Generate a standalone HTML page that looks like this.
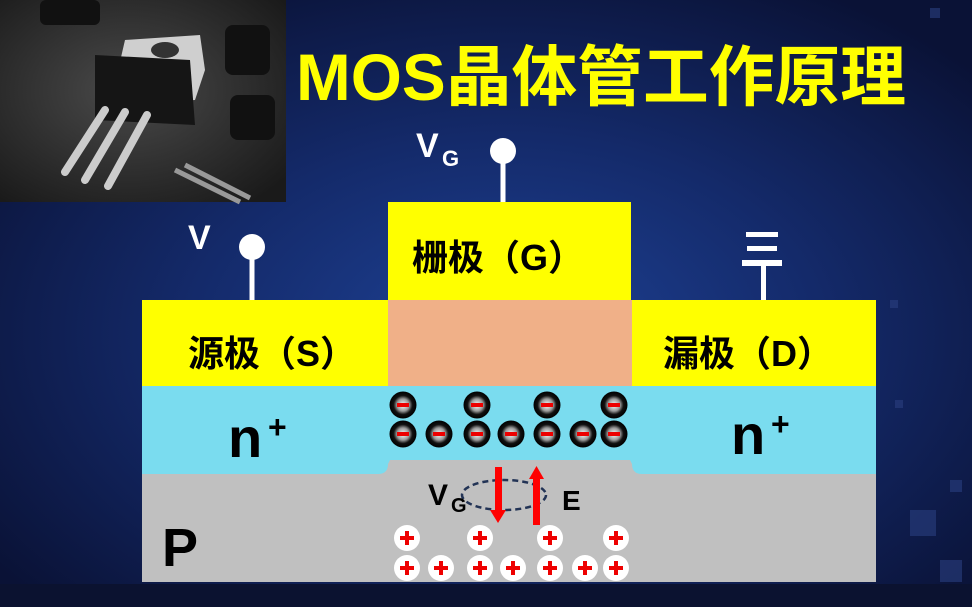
<!DOCTYPE html>
<html><head><meta charset="utf-8"><style>
html,body{margin:0;padding:0;width:972px;height:607px;overflow:hidden;background:#0c1537}
svg{display:block}
text{font-family:"Liberation Sans","Noto Sans CJK SC",sans-serif;font-weight:bold}
</style></head><body>
<svg width="972" height="607" viewBox="0 0 972 607" xmlns="http://www.w3.org/2000/svg">
<defs>
<radialGradient id="bg" cx="0.52" cy="0.55" r="0.65">
<stop offset="0" stop-color="#1e4296"/><stop offset="0.5" stop-color="#142a6a"/><stop offset="1" stop-color="#0a1236"/>
</radialGradient>
<radialGradient id="el" cx="0.5" cy="0.5" r="0.5">
<stop offset="0" stop-color="#fff"/><stop offset="0.45" stop-color="#999"/><stop offset="0.7" stop-color="#111"/><stop offset="1" stop-color="#000"/>
</radialGradient>
<radialGradient id="ph" cx="0.45" cy="0.45" r="0.7">
<stop offset="0" stop-color="#4a4a4a"/><stop offset="1" stop-color="#1a1a1a"/>
</radialGradient>
<g id="e"><circle r="13.5" fill="url(#el)"/><rect x="-6" y="-2" width="12" height="4" fill="#e00"/></g>
<g id="h"><circle r="13" fill="#fff"/><rect x="-7" y="-2" width="14" height="4" fill="#e00"/><rect x="-2" y="-7" width="4" height="14" fill="#e00"/></g>
</defs>
<rect width="972" height="607" fill="url(#bg)"/>
<rect x="0" y="584" width="972" height="23" fill="#0b1230"/>
<g fill="#2a3f80" opacity="0.6">
<rect x="930" y="8" width="10" height="10"/><rect x="910" y="510" width="26" height="26"/><rect x="950" y="480" width="12" height="12"/><rect x="940" y="560" width="22" height="22"/>
<rect x="890" y="300" width="8" height="8"/><rect x="895" y="400" width="8" height="8"/>
</g>
<!-- photo -->
<rect x="0" y="0" width="286" height="202" fill="url(#ph)"/>
<path d="M125,40 L200,35 L205,70 L195,100 L110,105 Z" fill="#cfcfcf"/>
<ellipse cx="165" cy="50" rx="14" ry="8" fill="#333"/>
<path d="M95,55 L190,60 L195,125 L95,120 Z" fill="#151515"/>
<g stroke="#ccc" stroke-width="8" stroke-linecap="round">
<line x1="105" y1="110" x2="65" y2="172"/><line x1="125" y1="112" x2="85" y2="180"/><line x1="147" y1="115" x2="108" y2="186"/>
</g>
<g stroke="#999" stroke-width="5"><line x1="175" y1="170" x2="240" y2="202"/><line x1="185" y1="165" x2="250" y2="198"/></g>
<rect x="225" y="25" width="45" height="50" fill="#111" rx="8"/><rect x="230" y="95" width="45" height="45" fill="#111" rx="8"/>
<rect x="40" y="0" width="60" height="25" fill="#111" rx="6"/>
<!-- title -->
<text x="296" y="100" font-size="66" fill="#ffff00" textLength="610" lengthAdjust="spacingAndGlyphs">MOS晶体管工作原理</text>
<!-- terminals -->
<line x1="503" y1="152" x2="503" y2="202" stroke="#fff" stroke-width="5"/>
<circle cx="503" cy="151" r="13" fill="#fff"/>
<text x="416" y="157" font-size="34" fill="#fff">V</text><text x="442" y="166" font-size="22" fill="#fff">G</text>
<line x1="252" y1="250" x2="252" y2="300" stroke="#fff" stroke-width="5"/>
<circle cx="252" cy="247" r="13" fill="#fff"/>
<text x="188" y="249" font-size="34" fill="#fff">V</text>
<g fill="#fff"><rect x="746" y="232" width="32" height="5"/><rect x="747" y="246" width="30" height="5"/><rect x="742" y="260" width="40" height="6"/><rect x="761" y="262" width="5" height="38"/></g>
<!-- substrate -->
<rect x="142" y="386" width="734" height="196" fill="#c0c0c0"/>
<path d="M142,386 H876 V474 H642 Q632,474 632,464 L630,460 H390 L388,464 Q388,474 378,474 H142 Z" fill="#7adcef"/>
<rect x="142" y="300" width="246" height="86" fill="#ffff00"/>
<rect x="632" y="300" width="244" height="86" fill="#ffff00"/>
<rect x="388" y="300" width="244" height="86" fill="#f0b088"/>
<rect x="388" y="202" width="243" height="98" fill="#ffff00"/>
<text x="412" y="270" font-size="36" fill="#000">栅极（G）</text>
<text x="188" y="366" font-size="36" fill="#000">源极（S）</text>
<text x="663" y="366" font-size="36" fill="#000">漏极（D）</text>
<text x="228" y="457" font-size="56" fill="#000">n</text><text x="268" y="438" font-size="32" fill="#000">+</text>
<text x="731" y="454" font-size="56" fill="#000">n</text><text x="771" y="435" font-size="32" fill="#000">+</text>
<text x="162" y="566" font-size="54" fill="#000">P</text>
<!-- electrons -->
<use href="#e" x="403" y="405"/><use href="#e" x="477" y="405"/><use href="#e" x="547" y="405"/><use href="#e" x="614" y="405"/>
<use href="#e" x="403" y="434"/><use href="#e" x="439" y="434"/><use href="#e" x="477" y="434"/><use href="#e" x="511" y="434"/><use href="#e" x="547" y="434"/><use href="#e" x="583" y="434"/><use href="#e" x="614" y="434"/>
<!-- holes -->
<use href="#h" x="407" y="538"/><use href="#h" x="480" y="538"/><use href="#h" x="550" y="538"/><use href="#h" x="616" y="538"/>
<use href="#h" x="407" y="568"/><use href="#h" x="441" y="568"/><use href="#h" x="480" y="568"/><use href="#h" x="513" y="568"/><use href="#h" x="550" y="568"/><use href="#h" x="585" y="568"/><use href="#h" x="616" y="568"/>
<!-- field -->
<ellipse cx="504" cy="495" rx="42" ry="15" fill="none" stroke="#223355" stroke-width="2.5" stroke-dasharray="6,4"/>
<rect x="495" y="467" width="7" height="45" fill="#f00"/><path d="M490,510 L506,510 L498,523 Z" fill="#f00"/>
<rect x="533" y="477" width="7" height="48" fill="#f00"/><path d="M529,479 L544,479 L536.5,466 Z" fill="#f00"/>
<text x="428" y="505" font-size="30" fill="#000">V</text><text x="451" y="512" font-size="20" fill="#000">G</text>
<text x="562" y="510" font-size="28" fill="#000">E</text>
</svg>
</body></html>
